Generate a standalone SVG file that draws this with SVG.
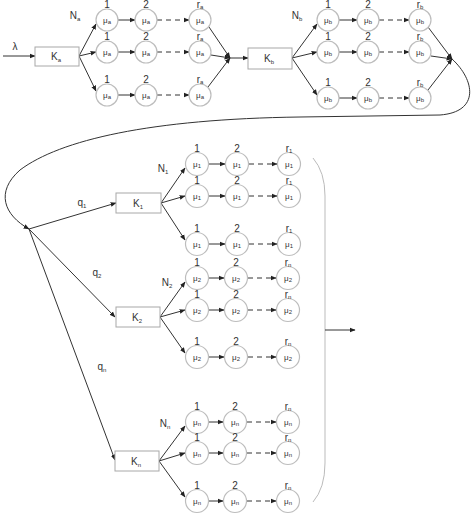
<svg xmlns="http://www.w3.org/2000/svg" width="474" height="516" viewBox="0 0 474 516">
<defs>
<marker id="ah" viewBox="0 0 10 10" refX="9" refY="5" markerWidth="6" markerHeight="6" orient="auto" markerUnits="userSpaceOnUse">
<path d="M0,1 L10,5 L0,9 Z" fill="#222"/>
</marker>
</defs>
<style>
text{font-family:"Liberation Sans",Arial,sans-serif;fill:#333;text-anchor:middle}
.c{fill:#fff;stroke:#bdbdbd;stroke-width:1.2}
.b{fill:#fff;stroke:#a8a8a8;stroke-width:1}
.m{font-size:8px}
.l{font-size:10px}
.k{font-size:10px}
.s{font-size:6px}
.e{stroke:#333;stroke-width:1;fill:none;marker-end:url(#ah)}
.d{stroke:#333;stroke-width:1;fill:none;stroke-dasharray:5,4;marker-end:url(#ah)}
.br{stroke:#bbb;stroke-width:1;fill:none}
</style>
<rect width="474" height="516" fill="#fff"/>

<g id="connectors">
<line class="e" x1="3" y1="56" x2="35" y2="56"/>
<line class="e" x1="79" y1="56" x2="96" y2="24"/>
<line class="e" x1="79" y1="56" x2="96" y2="52"/>
<line class="e" x1="79" y1="56" x2="96" y2="91"/>
<line class="e" x1="118" y1="20" x2="135" y2="20"/><line class="d" x1="157" y1="20" x2="189" y2="20"/>
<line class="e" x1="118" y1="52" x2="135" y2="52"/><line class="d" x1="157" y1="52" x2="189" y2="52"/>
<line class="e" x1="118" y1="95" x2="135" y2="95"/><line class="d" x1="157" y1="95" x2="189" y2="95"/>
<line class="e" x1="209" y1="27" x2="230" y2="58"/>
<line class="e" x1="211" y1="55" x2="230" y2="58"/>
<line class="e" x1="208" y1="87" x2="230" y2="58"/>
<line class="e" x1="230" y1="58" x2="248" y2="58"/>
<line class="e" x1="292" y1="58" x2="317" y2="24"/>
<line class="e" x1="292" y1="58" x2="317" y2="52"/>
<line class="e" x1="292" y1="58" x2="317" y2="95"/>
<line class="e" x1="339" y1="20" x2="357" y2="20"/><line class="d" x1="379" y1="20" x2="409" y2="20"/>
<line class="e" x1="339" y1="52" x2="357" y2="52"/><line class="d" x1="379" y1="52" x2="409" y2="52"/>
<line class="e" x1="339" y1="98" x2="357" y2="98"/><line class="d" x1="379" y1="98" x2="409" y2="98"/>
<line class="e" x1="428" y1="27" x2="452" y2="59"/>
<line class="e" x1="431" y1="56" x2="452" y2="59"/>
<line class="e" x1="428" y1="90" x2="452" y2="59"/>
<path class="e" d="M452,59 C475,80 480,112 440,115 L300,117 C150,119 60,140 20,170 C-5,192 4,215 29,229"/>
<line class="e" x1="29" y1="229" x2="116" y2="203"/>
<line class="e" x1="29" y1="229" x2="115" y2="317"/>
<line class="e" x1="29" y1="229" x2="115" y2="460"/>
<line class="e" x1="161" y1="203" x2="185" y2="168"/>
<line class="e" x1="161" y1="203" x2="185" y2="196"/>
<line class="e" x1="161" y1="203" x2="185" y2="240"/>
<line class="e" x1="209" y1="164" x2="225" y2="164"/><line class="d" x1="249" y1="164" x2="277" y2="164"/>
<line class="e" x1="209" y1="196" x2="225" y2="196"/><line class="d" x1="249" y1="196" x2="277" y2="196"/>
<line class="e" x1="209" y1="244" x2="225" y2="244"/><line class="d" x1="249" y1="244" x2="277" y2="244"/>
<line class="e" x1="160" y1="317" x2="185" y2="282"/>
<line class="e" x1="160" y1="317" x2="185" y2="310"/>
<line class="e" x1="160" y1="317" x2="185" y2="353"/>
<line class="e" x1="209" y1="278" x2="224" y2="278"/><line class="d" x1="248" y1="278" x2="276" y2="278"/>
<line class="e" x1="209" y1="310" x2="224" y2="310"/><line class="d" x1="248" y1="310" x2="276" y2="310"/>
<line class="e" x1="209" y1="357" x2="224" y2="357"/><line class="d" x1="248" y1="357" x2="276" y2="357"/>
<line class="e" x1="159" y1="461" x2="185" y2="426"/>
<line class="e" x1="159" y1="461" x2="185" y2="453"/>
<line class="e" x1="159" y1="461" x2="185" y2="497"/>
<line class="e" x1="209" y1="422" x2="223" y2="422"/><line class="d" x1="247" y1="422" x2="276" y2="422"/>
<line class="e" x1="209" y1="453" x2="223" y2="453"/><line class="d" x1="247" y1="453" x2="276" y2="453"/>
<line class="e" x1="209" y1="501" x2="223" y2="501"/><line class="d" x1="247" y1="501" x2="276" y2="501"/>
<path class="br" d="M313,158 Q325,172 325,196 L325,463 Q325,488 313,502"/>
<line class="e" x1="325" y1="330" x2="355" y2="330"/>
</g>

<g id="labels">
<text class="l" x="15" y="50">λ</text>
<text class="l" x="75" y="19">N<tspan class="s" dy="2">a</tspan></text>
<text class="l" x="297" y="19">N<tspan class="s" dy="2">b</tspan></text>
<text class="l" x="163" y="172">N<tspan class="s" dy="2">1</tspan></text>
<text class="l" x="167" y="286">N<tspan class="s" dy="2">2</tspan></text>
<text class="l" x="165" y="427">N<tspan class="s" dy="2">n</tspan></text>
<text class="l" x="82" y="206">q<tspan class="s" dy="2">1</tspan></text>
<text class="l" x="97" y="276">q<tspan class="s" dy="2">2</tspan></text>
<text class="l" x="102" y="370">q<tspan class="s" dy="2">n</tspan></text>
</g>

<g id="Ka"><rect class="b" x="35" y="47" width="44" height="19"/><text class="k" x="56" y="60">K<tspan class="s" dy="2">a</tspan></text></g>
<g id="Kb"><rect class="b" x="248" y="48" width="44" height="21"/><text class="k" x="269" y="62">K<tspan class="s" dy="2">b</tspan></text></g>
<g id="K1"><rect class="b" x="116" y="193" width="45" height="20"/><text class="k" x="138" y="207">K<tspan class="s" dy="2">1</tspan></text></g>
<g id="K2"><rect class="b" x="116" y="307" width="44" height="20"/><text class="k" x="137" y="321">K<tspan class="s" dy="2">2</tspan></text></g>
<g id="Kn"><rect class="b" x="115" y="451" width="44" height="20"/><text class="k" x="136" y="465">K<tspan class="s" dy="2">n</tspan></text></g>

<g id="a11"><circle class="c" cx="107" cy="20" r="11"/><text class="m" x="107" y="23">μ<tspan class="s" dy="1">a</tspan></text><text class="l" x="107" y="8">1</text></g>
<g id="a12"><circle class="c" cx="146" cy="20" r="11"/><text class="m" x="146" y="23">μ<tspan class="s" dy="1">a</tspan></text><text class="l" x="146" y="8">2</text></g>
<g id="a13"><circle class="c" cx="200" cy="20" r="11"/><text class="m" x="200" y="23">μ<tspan class="s" dy="1">a</tspan></text><text class="l" x="200" y="8">r<tspan class="s" dy="1">a</tspan></text></g>
<g id="a21"><circle class="c" cx="107" cy="52" r="11"/><text class="m" x="107" y="55">μ<tspan class="s" dy="1">a</tspan></text><text class="l" x="107" y="40">1</text></g>
<g id="a22"><circle class="c" cx="146" cy="52" r="11"/><text class="m" x="146" y="55">μ<tspan class="s" dy="1">a</tspan></text><text class="l" x="146" y="40">2</text></g>
<g id="a23"><circle class="c" cx="200" cy="52" r="11"/><text class="m" x="200" y="55">μ<tspan class="s" dy="1">a</tspan></text><text class="l" x="200" y="40">r<tspan class="s" dy="1">a</tspan></text></g>
<g id="a31"><circle class="c" cx="107" cy="95" r="11"/><text class="m" x="107" y="98">μ<tspan class="s" dy="1">a</tspan></text><text class="l" x="107" y="83">1</text></g>
<g id="a32"><circle class="c" cx="146" cy="95" r="11"/><text class="m" x="146" y="98">μ<tspan class="s" dy="1">a</tspan></text><text class="l" x="146" y="83">2</text></g>
<g id="a33"><circle class="c" cx="200" cy="95" r="11"/><text class="m" x="200" y="98">μ<tspan class="s" dy="1">a</tspan></text><text class="l" x="200" y="83">r<tspan class="s" dy="1">a</tspan></text></g>

<g id="b11"><circle class="c" cx="328" cy="20" r="11"/><text class="m" x="328" y="23">μ<tspan class="s" dy="1">b</tspan></text><text class="l" x="328" y="8">1</text></g>
<g id="b12"><circle class="c" cx="368" cy="20" r="11"/><text class="m" x="368" y="23">μ<tspan class="s" dy="1">b</tspan></text><text class="l" x="368" y="8">2</text></g>
<g id="b13"><circle class="c" cx="420" cy="20" r="11"/><text class="m" x="420" y="23">μ<tspan class="s" dy="1">b</tspan></text><text class="l" x="420" y="8">r<tspan class="s" dy="1">b</tspan></text></g>
<g id="b21"><circle class="c" cx="328" cy="52" r="11"/><text class="m" x="328" y="55">μ<tspan class="s" dy="1">b</tspan></text><text class="l" x="328" y="40">1</text></g>
<g id="b22"><circle class="c" cx="368" cy="52" r="11"/><text class="m" x="368" y="55">μ<tspan class="s" dy="1">b</tspan></text><text class="l" x="368" y="40">2</text></g>
<g id="b23"><circle class="c" cx="420" cy="52" r="11"/><text class="m" x="420" y="55">μ<tspan class="s" dy="1">b</tspan></text><text class="l" x="420" y="40">r<tspan class="s" dy="1">b</tspan></text></g>
<g id="b31"><circle class="c" cx="328" cy="98" r="11"/><text class="m" x="328" y="101">μ<tspan class="s" dy="1">b</tspan></text><text class="l" x="328" y="86">1</text></g>
<g id="b32"><circle class="c" cx="368" cy="98" r="11"/><text class="m" x="368" y="101">μ<tspan class="s" dy="1">b</tspan></text><text class="l" x="368" y="86">2</text></g>
<g id="b33"><circle class="c" cx="420" cy="98" r="11"/><text class="m" x="420" y="101">μ<tspan class="s" dy="1">b</tspan></text><text class="l" x="420" y="86">r<tspan class="s" dy="1">b</tspan></text></g>

<g id="g111"><circle class="c" cx="197" cy="164" r="11.5"/><text class="m" x="197" y="167">μ<tspan class="s" dy="1">1</tspan></text><text class="l" x="197" y="152">1</text></g>
<g id="g112"><circle class="c" cx="237" cy="164" r="11.5"/><text class="m" x="237" y="167">μ<tspan class="s" dy="1">1</tspan></text><text class="l" x="237" y="152">2</text></g>
<g id="g113"><circle class="c" cx="289" cy="164" r="11.5"/><text class="m" x="289" y="167">μ<tspan class="s" dy="1">1</tspan></text><text class="l" x="289" y="152">r<tspan class="s" dy="1">1</tspan></text></g>
<g id="g121"><circle class="c" cx="197" cy="196" r="11.5"/><text class="m" x="197" y="199">μ<tspan class="s" dy="1">1</tspan></text><text class="l" x="197" y="184">1</text></g>
<g id="g122"><circle class="c" cx="237" cy="196" r="11.5"/><text class="m" x="237" y="199">μ<tspan class="s" dy="1">1</tspan></text><text class="l" x="237" y="184">2</text></g>
<g id="g123"><circle class="c" cx="289" cy="196" r="11.5"/><text class="m" x="289" y="199">μ<tspan class="s" dy="1">1</tspan></text><text class="l" x="289" y="184">r<tspan class="s" dy="1">1</tspan></text></g>
<g id="g131"><circle class="c" cx="197" cy="244" r="11.5"/><text class="m" x="197" y="247">μ<tspan class="s" dy="1">1</tspan></text><text class="l" x="197" y="232">1</text></g>
<g id="g132"><circle class="c" cx="237" cy="244" r="11.5"/><text class="m" x="237" y="247">μ<tspan class="s" dy="1">1</tspan></text><text class="l" x="237" y="232">2</text></g>
<g id="g133"><circle class="c" cx="289" cy="244" r="11.5"/><text class="m" x="289" y="247">μ<tspan class="s" dy="1">1</tspan></text><text class="l" x="289" y="232">r<tspan class="s" dy="1">1</tspan></text></g>

<g id="g211"><circle class="c" cx="197" cy="278" r="11.5"/><text class="m" x="197" y="281">μ<tspan class="s" dy="1">2</tspan></text><text class="l" x="197" y="266">1</text></g>
<g id="g212"><circle class="c" cx="236" cy="278" r="11.5"/><text class="m" x="236" y="281">μ<tspan class="s" dy="1">2</tspan></text><text class="l" x="236" y="266">2</text></g>
<g id="g213"><circle class="c" cx="288" cy="278" r="11.5"/><text class="m" x="288" y="281">μ<tspan class="s" dy="1">2</tspan></text><text class="l" x="288" y="266">r<tspan class="s" dy="1">n</tspan></text></g>
<g id="g221"><circle class="c" cx="197" cy="310" r="11.5"/><text class="m" x="197" y="313">μ<tspan class="s" dy="1">2</tspan></text><text class="l" x="197" y="298">1</text></g>
<g id="g222"><circle class="c" cx="236" cy="310" r="11.5"/><text class="m" x="236" y="313">μ<tspan class="s" dy="1">2</tspan></text><text class="l" x="236" y="298">2</text></g>
<g id="g223"><circle class="c" cx="288" cy="310" r="11.5"/><text class="m" x="288" y="313">μ<tspan class="s" dy="1">2</tspan></text><text class="l" x="288" y="298">r<tspan class="s" dy="1">n</tspan></text></g>
<g id="g231"><circle class="c" cx="197" cy="357" r="11.5"/><text class="m" x="197" y="360">μ<tspan class="s" dy="1">2</tspan></text><text class="l" x="197" y="345">1</text></g>
<g id="g232"><circle class="c" cx="236" cy="357" r="11.5"/><text class="m" x="236" y="360">μ<tspan class="s" dy="1">2</tspan></text><text class="l" x="236" y="345">2</text></g>
<g id="g233"><circle class="c" cx="288" cy="357" r="11.5"/><text class="m" x="288" y="360">μ<tspan class="s" dy="1">2</tspan></text><text class="l" x="288" y="345">r<tspan class="s" dy="1">n</tspan></text></g>

<g id="gn11"><circle class="c" cx="197" cy="422" r="11.5"/><text class="m" x="197" y="425">μ<tspan class="s" dy="1">n</tspan></text><text class="l" x="197" y="410">1</text></g>
<g id="gn12"><circle class="c" cx="235" cy="422" r="11.5"/><text class="m" x="235" y="425">μ<tspan class="s" dy="1">n</tspan></text><text class="l" x="235" y="410">2</text></g>
<g id="gn13"><circle class="c" cx="288" cy="422" r="11.5"/><text class="m" x="288" y="425">μ<tspan class="s" dy="1">n</tspan></text><text class="l" x="288" y="410">r<tspan class="s" dy="1">n</tspan></text></g>
<g id="gn21"><circle class="c" cx="197" cy="453" r="11.5"/><text class="m" x="197" y="456">μ<tspan class="s" dy="1">n</tspan></text><text class="l" x="197" y="441">1</text></g>
<g id="gn22"><circle class="c" cx="235" cy="453" r="11.5"/><text class="m" x="235" y="456">μ<tspan class="s" dy="1">n</tspan></text><text class="l" x="235" y="441">2</text></g>
<g id="gn23"><circle class="c" cx="288" cy="453" r="11.5"/><text class="m" x="288" y="456">μ<tspan class="s" dy="1">n</tspan></text><text class="l" x="288" y="441">r<tspan class="s" dy="1">n</tspan></text></g>
<g id="gn31"><circle class="c" cx="197" cy="501" r="11.5"/><text class="m" x="197" y="504">μ<tspan class="s" dy="1">n</tspan></text><text class="l" x="197" y="489">1</text></g>
<g id="gn32"><circle class="c" cx="235" cy="501" r="11.5"/><text class="m" x="235" y="504">μ<tspan class="s" dy="1">n</tspan></text><text class="l" x="235" y="489">2</text></g>
<g id="gn33"><circle class="c" cx="288" cy="501" r="11.5"/><text class="m" x="288" y="504">μ<tspan class="s" dy="1">n</tspan></text><text class="l" x="288" y="489">r<tspan class="s" dy="1">n</tspan></text></g>
</svg>
